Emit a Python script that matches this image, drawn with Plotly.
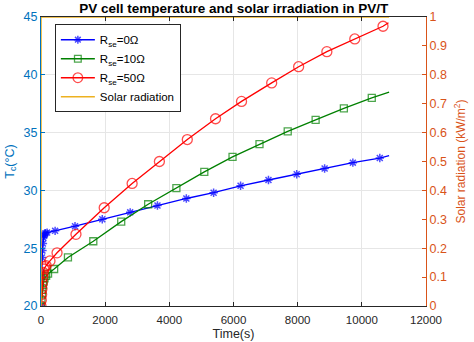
import plotly.graph_objects as go

# Simulation output: time (s) and PV cell temperature (°C) per series resistance
t_r0 = [0, 15, 30, 45, 60, 75, 90, 110, 140, 190, 440, 1060, 1910, 2780, 3630,
        4530, 5380, 6220, 7090, 7970, 8840, 9720, 10560, 10850]
T_r0 = [20, 22.5, 24.2, 24.8, 25.4, 25.9, 26.1, 26.2, 26.3, 26.35, 26.5, 26.9,
        27.5, 28.1, 28.7, 29.3, 29.8, 30.4, 30.9, 31.4, 31.9, 32.4, 32.8, 33.0]

t_r10 = [0, 15, 30, 45, 60, 80, 110, 160, 220, 410, 840, 1630, 2500, 3340, 4220,
         5090, 5970, 6810, 7690, 8560, 9440, 10310, 10850]
T_r10 = [20, 20.5, 21, 21.4, 21.8, 22.1, 22.4, 22.6, 22.8, 23.2, 24.2, 25.6,
         27.3, 28.8, 30.2, 31.6, 32.9, 34.0, 35.1, 36.1, 37.1, 38.0, 38.5]

t_r50 = [0, 10, 20, 30, 40, 55, 70, 90, 120, 160, 280, 500, 1090, 1970, 2840,
         3690, 4560, 5440, 6250, 7190, 8030, 8910, 9780, 10660, 10830]
T_r50 = [20, 20.5, 21, 21.5, 22, 22.5, 22.9, 23.2, 23.4, 23.5, 23.9, 24.6, 26.2,
         28.5, 30.6, 32.5, 34.4, 36.2, 37.7, 39.3, 40.7, 42.0, 43.1, 44.2, 44.5]

# Solar irradiation (kW/m^2), switched on at t = 0
t_sun = [0, 0, 10850]
G_sun = [0, 1, 1]

FONT = "Liberation Sans, Arial, sans-serif"
BLUE_AX = "#0072BD"
ORANGE_AX = "#D95319"


def marker_sizes(n, size):
    # no marker on the final sample, where the line simply ends
    return [size] * (n - 1) + [0]


fig = go.Figure()

fig.add_trace(go.Scatter(
    x=t_r0, y=T_r0, mode="lines+markers", name="R<sub>se</sub>=0Ω",
    line=dict(color="#0000FF", width=1.3),
    marker=dict(symbol="asterisk-open", size=marker_sizes(len(t_r0), 7),
                line=dict(color="#0000FF", width=1.5)),
))
fig.add_trace(go.Scatter(
    x=t_r10, y=T_r10, mode="lines+markers", name="R<sub>se</sub>=10Ω",
    line=dict(color="#008000", width=1.3),
    marker=dict(symbol="square-open", size=marker_sizes(len(t_r10), 7),
                color="#008000", line=dict(width=1.3)),
))
fig.add_trace(go.Scatter(
    x=t_r50, y=T_r50, mode="lines+markers", name="R<sub>se</sub>=50Ω",
    line=dict(color="#FF0000", width=1.3),
    marker=dict(symbol="circle-open", size=marker_sizes(len(t_r50), 10),
                color="#FF0000", line=dict(width=1.3)),
))
fig.add_trace(go.Scatter(
    x=t_sun, y=G_sun, mode="lines", name="Solar radiation", yaxis="y2",
    line=dict(color="#EDB120", width=1.5),
))

fig.update_layout(
    width=474, height=342,
    margin=dict(l=41, r=48, t=17, b=36),
    paper_bgcolor="white", plot_bgcolor="white",
    font=dict(family=FONT, size=11, color="#262626"),
    title=dict(text="<b>PV cell temperature and solar irradiation in PV/T</b>",
               x=0.493, xanchor="center", y=0.977, yanchor="middle",
               font=dict(size=13.5, color="#000000")),
    showlegend=True,
    legend=dict(x=0.036, y=0.975, xanchor="left", yanchor="top",
                bgcolor="white", bordercolor="#262626", borderwidth=1,
                font=dict(size=11.5, color="#000000"),
                tracegroupgap=0, itemwidth=34),
    xaxis=dict(
        range=[0, 12000], dtick=2000, tick0=0, tickformat="d",
        showgrid=True, gridcolor="#E6E6E6", gridwidth=1, zeroline=False,
        showline=True, linecolor="#262626", linewidth=1, mirror="ticks",
        ticks="inside", ticklen=4, tickcolor="#262626",
        ticklabelstandoff=3, automargin=False,
        tickfont=dict(size=11.5, color="#262626"),
        title=dict(text="Time(s)", standoff=4, font=dict(size=12.5, color="#262626")),
    ),
    yaxis=dict(
        range=[20, 45], dtick=5, tick0=20, automargin=False,
        showgrid=True, gridcolor="#E6E6E6", gridwidth=1, zeroline=False,
        showline=True, linecolor=BLUE_AX, linewidth=1,
        ticks="inside", ticklen=4, tickcolor=BLUE_AX,
        tickfont=dict(size=12.5, color=BLUE_AX),
        title=dict(text="T<sub>c</sub>(°C)", standoff=6,
                   font=dict(size=12.5, color=BLUE_AX)),
    ),
    yaxis2=dict(
        range=[0, 1], dtick=0.1, tick0=0, overlaying="y", side="right",
        showgrid=False, zeroline=False, automargin=False,
        showline=True, linecolor=ORANGE_AX, linewidth=1,
        ticks="inside", ticklen=4, tickcolor=ORANGE_AX,
        tickfont=dict(size=12.5, color=ORANGE_AX),
        title=dict(text="Solar radiation (kW/m<sup>2</sup>)", standoff=10,
                   font=dict(size=12, color=ORANGE_AX)),
    ),
)

fig.write_html("out.html")
